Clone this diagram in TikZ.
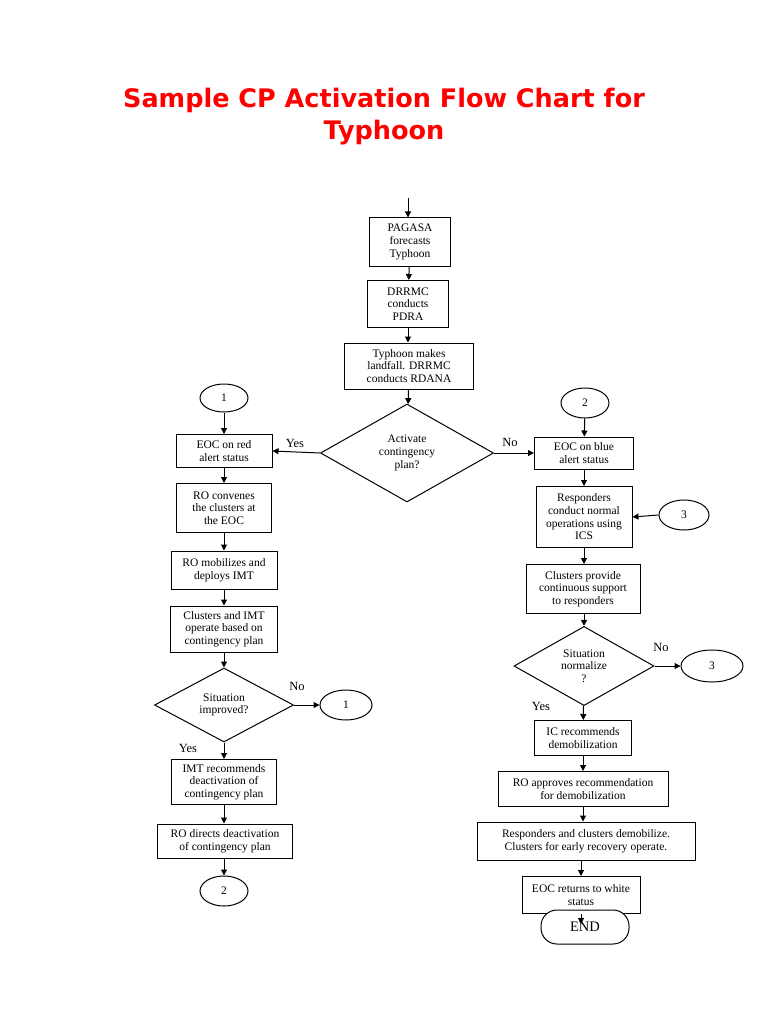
\documentclass[tikz,border=0pt]{standalone}
\usepackage{fontspec}
\setmainfont{Liberation Serif}
\newfontfamily\titlefont{DejaVu Sans}
\usetikzlibrary{shapes.geometric,arrows.meta}
\begin{document}
\begin{tikzpicture}[x=1pt,y=-1pt,
  box/.style={draw,line width=1pt,align=center,inner sep=1pt,font=\fontsize{11.5}{12.7}\selectfont},
  dia/.style={draw,diamond,line width=1pt,align=center,inner sep=0pt,font=\fontsize{11.5}{12.7}\selectfont},
  circ/.style={draw,ellipse,line width=1pt,inner sep=0pt,font=\fontsize{11.5}{12}\selectfont},
  lab/.style={font=\fontsize{12.5}{14}\selectfont},
  arr/.style={-{Triangle[length=6pt,width=6pt]},line width=1pt}]
\useasboundingbox (0,0) rectangle (768,1024);
\node[text=red,font=\titlefont\bfseries\fontsize{25.5}{32}\selectfont,align=center] (title) at (384,117) {Sample CP Activation Flow Chart for\\Typhoon};
\coordinate (start) at (408,198);
\node[box,minimum width=81,minimum height=48] (pag) at (410,242) {PAGASA\\forecasts\\Typhoon};
\node[box,minimum width=81,minimum height=47] (drr) at (408,304) {DRRMC\\conducts\\PDRA};
\node[box,minimum width=129,minimum height=46] (typ) at (409,366) {Typhoon makes\\landfall. DRRMC\\conducts RDANA};
\node[dia,minimum width=173,minimum height=98] (act) at (407,453) {Activate\\contingency\\plan?};
% left
\node[circ,minimum width=48,minimum height=28] (c1a) at (224,398) {1};
\node[box,minimum width=96,minimum height=33] (red) at (224,451) {EOC on red\\alert status};
\node[box,minimum width=95,minimum height=49] (conv) at (224,508) {RO convenes\\the clusters at\\the EOC};
\node[box,minimum width=106,minimum height=38] (mob) at (224,570) {RO mobilizes and\\deploys IMT};
\node[box,minimum width=107,minimum height=46] (imt) at (224,629) {Clusters and IMT\\operate based on\\contingency plan};
\node[dia,minimum width=139,minimum height=74] (imp) at (224,705) {Situation\\improved?};
\node[circ,minimum width=52,minimum height=30] (c1b) at (346,705) {1};
\node[box,minimum width=105,minimum height=45] (rec) at (224,782) {IMT recommends\\deactivation of\\contingency plan};
\node[box,minimum width=135,minimum height=34] (dir) at (225,841) {RO directs deactivation\\of contingency plan};
\node[circ,minimum width=48,minimum height=30] (c2a) at (224,891) {2};
% right
\node[circ,minimum width=48,minimum height=30] (c2b) at (585,403) {2};
\node[box,minimum width=99,minimum height=32] (blue) at (584,453) {EOC on blue\\alert status};
\node[box,minimum width=96,minimum height=61] (resp) at (584,517) {Responders\\conduct normal\\operations using\\ICS};
\node[circ,minimum width=50,minimum height=30] (c3a) at (684,515) {3};
\node[box,minimum width=114,minimum height=49] (clu) at (583,589) {Clusters provide\\continuous support\\to responders};
\node[dia,minimum width=140,minimum height=74] (norm) at (584,666) {Situation\\normalize\\?};
\node[circ,minimum width=62,minimum height=32] (c3b) at (712,666) {3};
\node[box,minimum width=97,minimum height=35] (ic) at (583,738) {IC recommends\\demobilization};
\node[box,minimum width=170,minimum height=35] (app) at (583,789) {RO approves recommendation\\for demobilization};
\node[box,minimum width=218,minimum height=38] (dem) at (586,841) {Responders and clusters demobilize.\\Clusters for early recovery operate.};
\node[box,minimum width=118,minimum height=37] (white) at (581,895) {EOC returns to white\\status};
\node[draw,line width=1pt,rounded corners=16pt,fill=white,minimum width=88,minimum height=34,font=\fontsize{14.5}{16}\selectfont] (end) at (585,927) {END};
\coordinate (endin) at (581,924);
% labels
\node[lab] (y1) at (295,443) {Yes};
\node[lab] (n1) at (510,442) {No};
\node[lab] (n2) at (297,686) {No};
\node[lab] (y2) at (188,748) {Yes};
\node[lab] (n3) at (661,647) {No};
\node[lab] (y3) at (541,706) {Yes};
% arrows
\draw[arr] (start) -- (pag.north -| start);
\draw[arr] (pag) -- (drr);
\draw[arr] (drr) -- (typ.north -| drr);
\draw[arr] (typ) -- (act);
\draw[arr] (act.west) -- (red.east);
\draw[arr] (act.east) -- (blue.west);
\draw[arr] (c1a) -- (red);
\draw[arr] (red) -- (conv);
\draw[arr] (conv) -- (mob);
\draw[arr] (mob) -- (imt);
\draw[arr] (imt) -- (imp);
\draw[arr] (imp.east) -- (c1b.west);
\draw[arr] (imp) -- (rec);
\draw[arr] (rec) -- (dir.north -| rec);
\draw[arr] (dir.south -| c2a) -- (c2a);
\draw[arr] (c2b) -- (blue);
\draw[arr] (blue) -- (resp);
\draw[arr] (c3a.west) -- (resp.east);
\draw[arr] (resp) -- (clu.north -| resp);
\draw[arr] (clu.south -| norm) -- (norm);
\draw[arr] (norm.east) -- (c3b.west);
\draw[arr] (norm) -- (ic);
\draw[arr] (ic) -- (app);
\draw[arr] (app.south -| app) -- (dem.north -| app);
\draw[arr] (dem.south -| white) -- (white);
\draw[arr] (white.south) -- (endin);
\end{tikzpicture}
\end{document}
